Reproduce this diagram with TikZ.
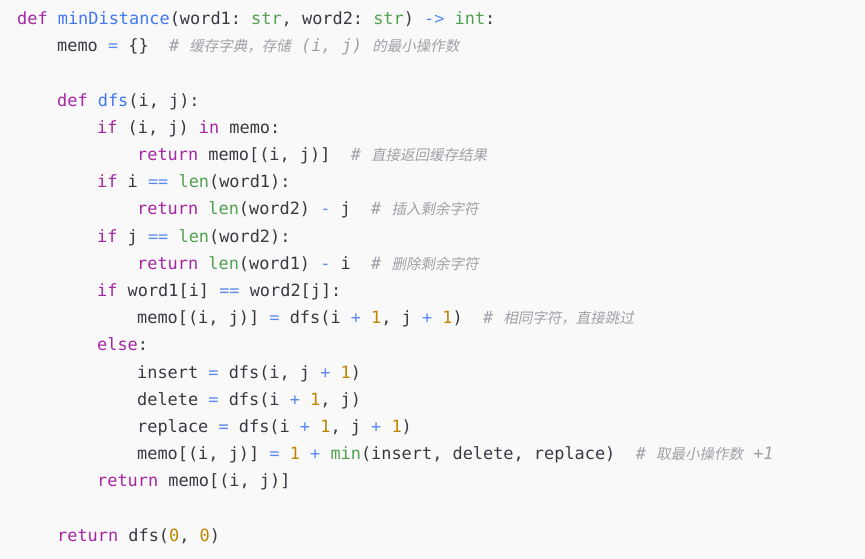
\documentclass[tikz,border=0pt]{standalone}
\usepackage{fontspec}
\setmonofont{DejaVu Sans Mono}
\newfontfamily\cjk[FakeSlant=0.2]{Noto Sans CJK SC}
\definecolor{bgc}{HTML}{F9F9FA}
\definecolor{txt}{HTML}{383A42}
\definecolor{kw}{HTML}{A626A4}
\definecolor{fn}{HTML}{4078F2}
\definecolor{bi}{HTML}{50A14F}
\definecolor{nu}{HTML}{C18401}
\definecolor{op}{HTML}{5C8AF2}
\definecolor{cm}{HTML}{A0A1A7}
\newcommand\K[1]{\textcolor{kw}{#1}}
\newcommand\F[1]{\textcolor{fn}{#1}}
\newcommand\B[1]{\textcolor{bi}{#1}}
\newcommand\N[1]{\textcolor{nu}{#1}}
\newcommand\Op[1]{\textcolor{op}{#1}}
\newcommand\Cm[1]{{\color{cm}\itshape #1}}
\newcommand\cj[1]{{\cjk\fontsize{14.5}{16}\selectfont #1}}
\begin{document}
\begin{tikzpicture}[x=1pt,y=-1pt,
  ln/.style={anchor=base west,inner sep=0pt,text=txt,font=\ttfamily\fontsize{16.9}{20}\selectfont}]
\useasboundingbox[fill=bgc] (0,0) rectangle (865,558);
\newcommand\Ln[4]{\node[ln] (#1) at ({17+10*#2},{24.5+27.2*#3}) {#4};}
\Ln{l1}{0}{0}{\K{def} \F{minDistance}(word1: \B{str}, word2: \B{str}) \Op{->} \B{int}:}
\Ln{l2}{4}{1}{memo \Op{=} \{\}\ \ \Cm{\# \cj{缓存字典，存储} (i, j) \cj{的最小操作数}}}
\Ln{l4}{4}{3}{\K{def} \F{dfs}(i, j):}
\Ln{l5}{8}{4}{\K{if} (i, j) \K{in} memo:}
\Ln{l6}{12}{5}{\K{return} memo[(i, j)]\ \ \Cm{\# \cj{直接返回缓存结果}}}
\Ln{l7}{8}{6}{\K{if} i \Op{==} \B{len}(word1):}
\Ln{l8}{12}{7}{\K{return} \B{len}(word2) \Op{-} j\ \ \Cm{\# \cj{插入剩余字符}}}
\Ln{l9}{8}{8}{\K{if} j \Op{==} \B{len}(word2):}
\Ln{l10}{12}{9}{\K{return} \B{len}(word1) \Op{-} i\ \ \Cm{\# \cj{删除剩余字符}}}
\Ln{l11}{8}{10}{\K{if} word1[i] \Op{==} word2[j]:}
\Ln{l12}{12}{11}{memo[(i, j)] \Op{=} dfs(i \Op{+} \N{1}, j \Op{+} \N{1})\ \ \Cm{\# \cj{相同字符，直接跳过}}}
\Ln{l13}{8}{12}{\K{else}:}
\Ln{l14}{12}{13}{insert \Op{=} dfs(i, j \Op{+} \N{1})}
\Ln{l15}{12}{14}{delete \Op{=} dfs(i \Op{+} \N{1}, j)}
\Ln{l16}{12}{15}{replace \Op{=} dfs(i \Op{+} \N{1}, j \Op{+} \N{1})}
\Ln{l17}{12}{16}{memo[(i, j)] \Op{=} \N{1} \Op{+} \B{min}(insert, delete, replace)\ \ \Cm{\# \cj{取最小操作数} +1}}
\Ln{l18}{8}{17}{\K{return} memo[(i, j)]}
\Ln{l20}{4}{19}{\K{return} dfs(\N{0}, \N{0})}
\end{tikzpicture}
\end{document}
